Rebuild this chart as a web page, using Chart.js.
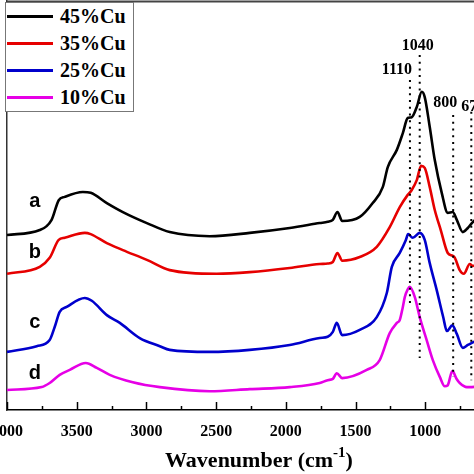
<!DOCTYPE html>
<html lang="en">
<head>
    <meta charset="UTF-8">
    <title>FTIR spectra</title>
    <style>
        body {
            margin: 0;
            padding: 0;
            width: 474px;
            height: 474px;
            overflow: hidden;
            background: #fff;
            position: relative;
        }

        #wrap {
            position: absolute;
            left: -33px;
            top: 0;
            width: 558px;
            height: 474px;
        }

        #legend {
            position: absolute;
            left: 5px;
            top: 2px;
            width: 127px;
            height: 108px;
            border: 1px solid #777;
            background: #fff;
        }

        .row {
            position: absolute;
            left: 0;
            height: 26px;
            display: flex;
            align-items: center;
        }

        .row span.line {
            display: inline-block;
            width: 46px;
            height: 3px;
            margin-left: 1px;
        }

        .row span.txt {
            margin-left: 7px;
            font: bold 20px "Liberation Serif", serif;
            color: #000;
        }
    </style>
    <script src="https://cdn.jsdelivr.net/npm/chart.js"></script>
</head>
<body>

<div id="wrap"><canvas id="ftir"></canvas></div>
<div id="legend"></div>

<script>
    // series names and colours
    const seriesNames = ['45%Cu', '35%Cu', '25%Cu', '10%Cu'];
    const seriesColors = ['#000000', '#e60000', '#0000cc', '#e600e6'];
    const curveTags = ['a', 'b', 'c', 'd'];

    // x ticks (wavenumber, cm-1)
    const tickValues = [4000, 3500, 3000, 2500, 2000, 1500, 1000, 500];

    // 45%Cu
    const wnA = [4000, 3765, 3680, 3629, 3586, 3456, 3400, 3284, 3169, 2997, 2833, 2546, 2259, 1972, 1757, 1700, 1663, 1630, 1596, 1470, 1377, 1305, 1269, 1204, 1161, 1126, 1097, 1061, 1025, 1004, 968, 932, 882, 839, 803, 774, 731, 695, 666, 600];
    const tA = [42.8, 44.0, 46.5, 51.3, 52.1, 53.3, 53.1, 50.6, 48.4, 45.7, 43.5, 42.5, 43.3, 44.5, 45.7, 46.0, 46.5, 48.4, 46.2, 47.2, 50.6, 54.5, 59.4, 63.6, 67.7, 71.4, 71.6, 74.1, 77.8, 76.5, 69.2, 61.1, 53.1, 48.2, 48.4, 46.5, 43.5, 44.5, 45.7, 47.7];

    // 35%Cu
    const wnB = [4000, 3765, 3694, 3629, 3586, 3442, 3400, 3284, 3169, 2997, 2833, 2496, 2259, 1972, 1757, 1700, 1663, 1630, 1596, 1470, 1348, 1255, 1183, 1126, 1097, 1061, 1030, 1004, 968, 932, 889, 839, 803, 788, 753, 724, 681, 660, 600];
    const tB = [33.3, 35.0, 37.2, 41.6, 42.1, 43.3, 43.0, 40.8, 39.1, 36.7, 34.2, 33.3, 33.7, 34.7, 35.7, 35.8, 36.2, 38.4, 36.5, 37.4, 39.9, 44.7, 49.6, 52.6, 53.8, 56.2, 59.7, 59.2, 54.5, 48.9, 44.0, 38.4, 37.7, 37.2, 34.2, 33.3, 35.7, 35.2, 36.0];

    // 25%Cu
    const wnC = [4000, 3787, 3694, 3658, 3622, 3572, 3442, 3392, 3284, 3191, 3048, 2904, 2833, 2546, 2259, 1972, 1757, 1700, 1663, 1635, 1596, 1470, 1348, 1276, 1240, 1183, 1140, 1123, 1090, 1040, 1004, 968, 918, 872, 845, 806, 774, 731, 695, 666, 600];
    const tC = [14.2, 15.6, 17.1, 20.3, 24.0, 25.2, 27.4, 26.7, 23.2, 21.3, 17.6, 15.6, 14.7, 14.2, 14.7, 15.9, 17.6, 17.9, 19.1, 21.3, 18.3, 19.6, 22.7, 28.6, 35.0, 38.4, 41.5, 43.0, 42.1, 43.3, 41.6, 35.9, 29.3, 22.8, 19.3, 20.7, 18.6, 15.2, 15.9, 16.4, 17.5];

    // 10%Cu
    const wnD = [4000, 3751, 3694, 3622, 3550, 3435, 3356, 3263, 3098, 2904, 2546, 2259, 1972, 1757, 1700, 1663, 1635, 1596, 1420, 1327, 1255, 1204, 1183, 1161, 1147, 1126, 1111, 1075, 1040, 990, 946, 896, 860, 840, 806, 774, 753, 702, 666, 600];
    const tD = [4.9, 5.6, 6.6, 8.6, 9.8, 11.5, 10.3, 8.6, 6.8, 5.6, 4.6, 5.1, 5.6, 6.6, 7.3, 7.6, 9.0, 7.8, 9.8, 12.2, 18.8, 21.3, 22.0, 25.2, 27.6, 29.5, 30.1, 27.6, 22.7, 17.1, 12.2, 8.1, 5.8, 6.0, 9.5, 7.5, 6.6, 5.6, 5.6, 6.0];

    // marked bands
    const bandWn = [1110, 1040, 800, 670];
    const bandLabels = ['1110', '1040', '800', '670'];
    const bandTop = [80.7, 86.8, 72.1, 72.9];
    const bandBottom = [25.7, 12.7, 8.1, 7.3];

    const wnSets = [wnA, wnB, wnC, wnD];
    const tSets = [tA, tB, tC, tD];

    // legend built from the series names
    const legend = document.getElementById('legend');
    seriesNames.forEach((name, i) => {
        const row = document.createElement('div');
        row.className = 'row';
        row.style.top = (i * 27) + 'px';
        row.innerHTML = '<span class="line" style="background:' + seriesColors[i] + '"></span><span class="txt">' + name + '</span>';
        legend.appendChild(row);
    });

    // ticks, frame, dotted band lines, letters and the axis title
    const extras = {
        id: 'extras',
        afterDatasetsDraw(chart) {
            const { ctx, chartArea: a, scales: { x, y } } = chart;
            ctx.save();

            // top frame line
            ctx.strokeStyle = '#444';
            ctx.lineWidth = 2;
            ctx.beginPath();
            ctx.moveTo(a.left, a.top + 0.5);
            ctx.lineTo(a.right, a.top + 0.5);
            ctx.stroke();

            // inward ticks, major every 500, minor every 250
            ctx.strokeStyle = '#000';
            ctx.lineWidth = 1.5;
            for (let v = 4000; v >= 500; v -= 250) {
                const px = Math.round(x.getPixelForValue(v)) + 0.5;
                const len = v % 500 === 0 ? 8 : 4;
                ctx.beginPath();
                ctx.moveTo(px, a.bottom);
                ctx.lineTo(px, a.bottom - len);
                ctx.stroke();
            }

            // dotted band lines
            ctx.setLineDash([2, 4.7]);
            ctx.lineWidth = 2;
            bandWn.forEach((w, i) => {
                const px = x.getPixelForValue(w);
                ctx.beginPath();
                ctx.moveTo(px, y.getPixelForValue(bandTop[i]));
                ctx.lineTo(px, y.getPixelForValue(bandBottom[i]));
                ctx.stroke();
            });
            ctx.setLineDash([]);

            // band labels
            const labelDx = [-13, -2, -8, 2];
            const labelDy = [-10, -9, -12, -5];
            ctx.fillStyle = '#000';
            ctx.font = 'bold 16px "Liberation Serif", serif';
            ctx.textAlign = 'center';
            ctx.textBaseline = 'middle';
            bandWn.forEach((w, i) => {
                ctx.fillText(bandLabels[i], x.getPixelForValue(w) + labelDx[i], y.getPixelForValue(bandTop[i]) + labelDy[i]);
            });

            // curve letters
            const tagY = [50.9, 38.4, 21.3, 9.0];
            ctx.font = 'bold 20px "Liberation Sans", Arial, sans-serif';
            curveTags.forEach((t, i) => {
                ctx.fillText(t, x.getPixelForValue(3800), y.getPixelForValue(tagY[i]));
            });

            // axis title with superscript
            const main1 = 'Wavenumber (cm';
            const sup = '-1';
            const main2 = ')';
            ctx.textAlign = 'left';
            ctx.textBaseline = 'alphabetic';
            ctx.font = 'bold 22px "Liberation Serif", serif';
            const w1 = ctx.measureText(main1).width;
            const w3 = ctx.measureText(main2).width;
            ctx.font = 'bold 15px "Liberation Serif", serif';
            const w2 = ctx.measureText(sup).width;
            const cx = (a.left + a.right) / 2 + 8;
            let sx = cx - (w1 + w2 + w3) / 2;
            const base = 467;
            ctx.font = 'bold 22px "Liberation Serif", serif';
            ctx.fillText(main1, sx, base);
            ctx.font = 'bold 15px "Liberation Serif", serif';
            ctx.fillText(sup, sx + w1, base - 10);
            ctx.font = 'bold 22px "Liberation Serif", serif';
            ctx.fillText(main2, sx + w1 + w2, base);

            ctx.restore();
        }
    };

    const datasets = seriesNames.map((name, i) => ({
        label: name,
        data: wnSets[i].map((w, k) => ({ x: w, y: tSets[i][k] })),
        borderColor: seriesColors[i],
        borderWidth: 2.6,
        pointRadius: 0,
        fill: false,
        cubicInterpolationMode: 'monotone'
    }));

    new Chart(document.getElementById('ftir'), {
        type: 'line',
        data: { datasets: datasets },
        options: {
            responsive: true,
            maintainAspectRatio: false,
            animation: false,
            layout: { padding: { top: 1, right: 30, bottom: 0, left: 0 } },
            plugins: {
                legend: { display: false },
                tooltip: { enabled: false }
            },
            scales: {
                x: {
                    type: 'linear',
                    reverse: true,
                    min: 500,
                    max: 4000,
                    afterFit: s => { s.height = 64; },
                    afterBuildTicks: s => { s.ticks = tickValues.map(v => ({ value: v })); },
                    grid: { display: false },
                    border: { display: true, color: '#000', width: 1.5 },
                    ticks: {
                        autoSkip: false,
                        maxRotation: 0,
                        padding: 4,
                        color: '#000',
                        font: { family: '"Liberation Serif", serif', size: 16, weight: 'bold' },
                        callback: v => String(v)
                    }
                },
                y: {
                    min: 0,
                    max: 100,
                    afterFit: s => { s.width = 40; },
                    grid: { display: false },
                    border: { display: true, color: '#333', width: 1.5 },
                    ticks: { display: false }
                }
            }
        },
        plugins: [extras]
    });
</script>

</body>
</html>
